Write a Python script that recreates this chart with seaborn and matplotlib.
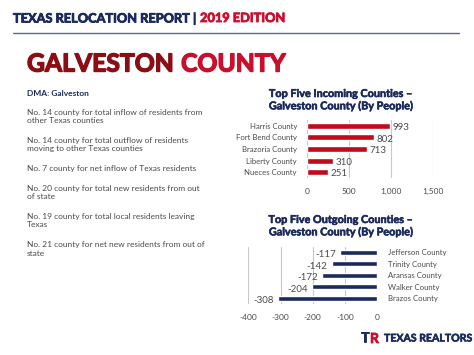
import pandas as pd
import seaborn as sns
import matplotlib.pyplot as plt
import matplotlib.patheffects as pe

sns.set_style('white')
plt.rcParams['font.family'] = ['Lato', 'DejaVu Sans']

# data
in_counties = ['Harris County', 'Fort Bend County', 'Brazoria County', 'Liberty County', 'Nueces County']
in_people = [993, 802, 713, 310, 251]
in_ticks = [0, 500, 1000, 1500]

out_counties = ['Jefferson County', 'Trinity County', 'Aransas County', 'Walker County', 'Brazos County']
out_people = [-117, -142, -172, -204, -308]
out_ticks = [-400, -300, -200, -100, 0]

facts = [
    'No. 14 county for total inflow of residents from\nother Texas counties',
    'No. 14 county for total outflow of residents\nmoving to other Texas counties',
    'No. 7 county for net inflow of Texas residents',
    'No. 20 county for total new residents from out\nof state',
    'No. 19 county for total local residents leaving\nTexas',
    'No. 21 county for net new residents from out of\nstate',
]
fact_y = [112.7, 140.7, 169.3, 188.3, 216.7, 245]

NAVY = '#1b2a5c'
RED = '#c8102e'
DARKRED = '#8a0e14'
BARRED = '#c00b1b'
GREY = '#4a4a4a'

W, H = 474, 355
fig = plt.figure(figsize=(W / 100, H / 100), dpi=100)

# page layer for free text
bg = fig.add_axes([0, 0, 1, 1])
bg.set_xlim(0, W)
bg.set_ylim(H, 0)
bg.axis('off')


def box(x0, y0, x1, y1):
    return [x0 / W, 1 - y1 / H, (x1 - x0) / W, (y1 - y0) / H]


def heavy(c, w=0.6):
    return [pe.withStroke(linewidth=w, foreground=c)]


# header
t1 = bg.text(13, 18, 'TEXAS RELOCATION REPORT |', color=NAVY, fontsize=9.2,
             fontweight='bold', va='center', ha='left', path_effects=heavy(NAVY))
bg.annotate('2019 EDITION', xy=(1, 0.5), xycoords=t1, xytext=(3, 0),
            textcoords='offset points', color=RED, fontsize=9.2,
            fontweight='bold', va='center', ha='left', path_effects=heavy(RED))
bg.plot([13, 459], [33, 33], color='#5a6a8e', lw=1)

g1 = bg.text(27, 64, 'GALVESTON', color=DARKRED, fontsize=17.8,
             fontweight='bold', va='center', ha='left', path_effects=heavy(DARKRED, 1))
bg.annotate('COUNTY', xy=(1, 0.5), xycoords=g1, xytext=(5, 0),
            textcoords='offset points', color=RED, fontsize=17.8,
            fontweight='bold', va='center', ha='left', path_effects=heavy(RED, 1))

# left column
bg.text(27, 93.3, 'DMA: Galveston', color=NAVY, fontsize=6,
        fontweight='bold', va='center', ha='left')
for y, t in zip(fact_y, facts):
    bg.text(27, y - 3.8, t, color=GREY, fontsize=6, va='top', ha='left',
            linespacing=1.25)

# incoming chart
bg.text(341, 88, 'Top Five Incoming Counties \u2013\nGalveston County (By People)',
        color=NAVY, fontsize=7.8, fontweight='bold', ha='center', va='top',
        linespacing=1.15, path_effects=heavy(NAVY, 0.4))

ax1 = fig.add_axes(box(306.7, 120, 432.7, 178))
df_in = pd.DataFrame({'County': in_counties, 'People': in_people})
sns.barplot(data=df_in, x='People', y='County', color=BARRED, width=0.52,
            saturation=1, ax=ax1)
ax1.set_xlim(0, 1500)
ax1.set_xticks(in_ticks)
ax1.set_xticklabels([f'{t:,}' for t in in_ticks])
ax1.set_xlabel('')
ax1.set_ylabel('')
ax1.grid(axis='x', color='#c8c8c8', lw=0.8)
ax1.set_axisbelow(True)
for s in ax1.spines.values():
    s.set_visible(False)
ax1.axvline(0, color='#c8c8c8', lw=0.8, zorder=0)
ax1.tick_params(axis='x', labelsize=6, colors=GREY, length=0, pad=7)
ax1.tick_params(axis='y', labelsize=5.6, colors=GREY, length=0, pad=7)
for i, v in enumerate(in_people):
    ax1.text(v + 30, i + 0.15, str(v), color=GREY, fontsize=7, va='center', ha='left')

# outgoing chart
bg.text(341, 214, 'Top Five Outgoing Counties \u2013\nGalveston County (By People)',
        color=NAVY, fontsize=7.8, fontweight='bold', ha='center', va='top',
        linespacing=1.15, path_effects=heavy(NAVY, 0.4))

ax2 = fig.add_axes(box(248.3, 246.7, 377.3, 304))
df_out = pd.DataFrame({'County': out_counties, 'People': out_people})
sns.barplot(data=df_out, x='People', y='County', color=NAVY, width=0.45,
            saturation=1, ax=ax2)
ax2.set_xlim(-400, 0)
ax2.set_xticks(out_ticks)
ax2.set_xticklabels([f'{t}' for t in out_ticks])
ax2.set_xlabel('')
ax2.set_ylabel('')
ax2.yaxis.tick_right()
ax2.grid(axis='x', color='#c8c8c8', lw=0.8)
ax2.set_axisbelow(True)
for s in ax2.spines.values():
    s.set_visible(False)
ax2.tick_params(axis='x', labelsize=6, colors=GREY, length=0, pad=7)
ax2.tick_params(axis='y', labelsize=5.6, colors=GREY, length=0, pad=8)
for lab in ax2.get_yticklabels():
    lab.set_ha('left')
for i, v in enumerate(out_people):
    ax2.text(v - 12, i + 0.2, str(v), color=GREY, fontsize=7, va='center', ha='right')

# logo
bg.text(361, 338, 'T', color=NAVY, fontsize=10, fontweight='bold',
        va='center', ha='left', path_effects=heavy(NAVY))
bg.text(370, 339, 'R', color=RED, fontsize=10, fontweight='bold',
        va='center', ha='left', path_effects=heavy(RED))
bg.text(384, 338, 'TEXAS REALTORS', color=NAVY, fontsize=7.6,
        fontweight='bold', va='center', ha='left', path_effects=heavy(NAVY, 0.4))

fig.savefig('out.png', dpi=100, facecolor='white')
